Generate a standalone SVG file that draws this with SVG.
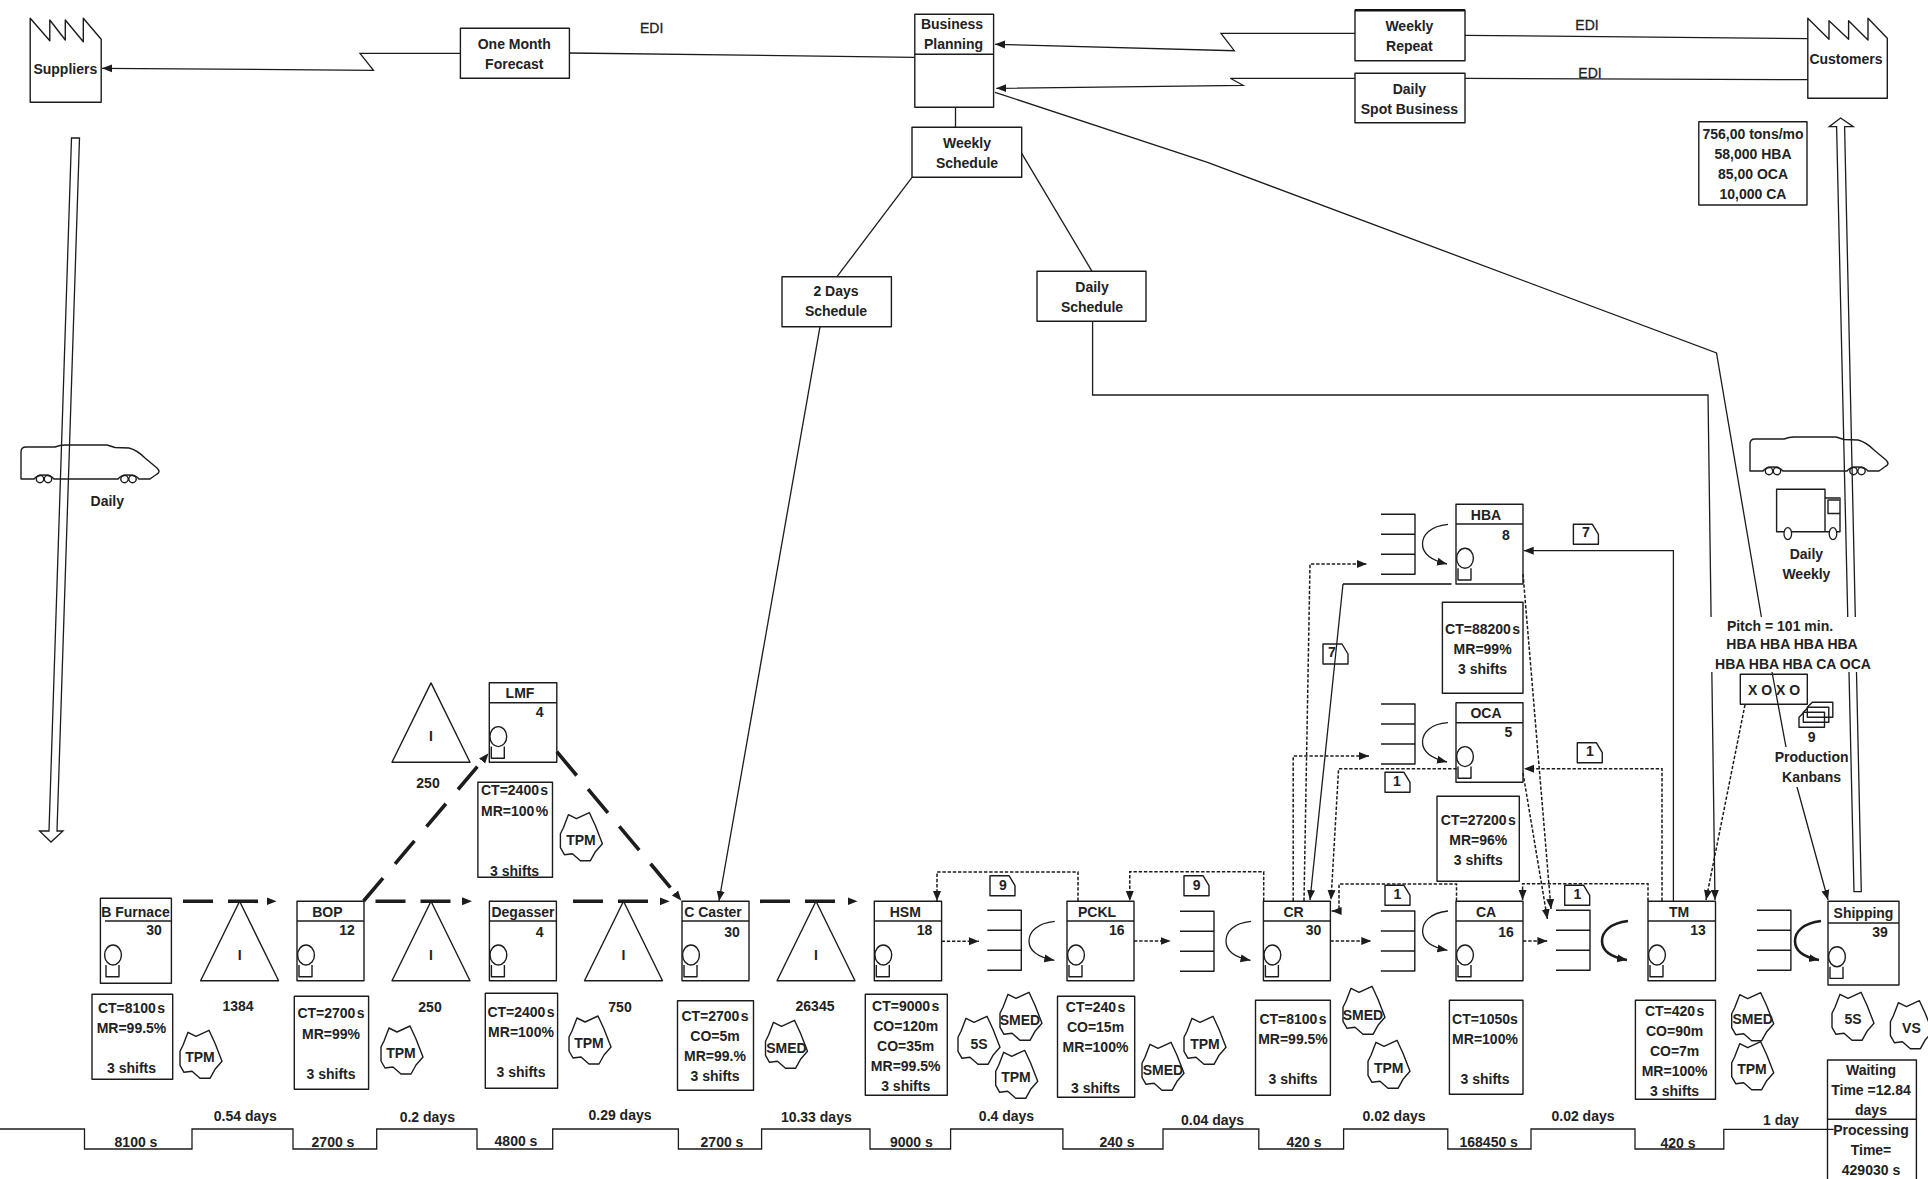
<svg xmlns="http://www.w3.org/2000/svg" xmlns:xlink="http://www.w3.org/1999/xlink" width="1928" height="1179" viewBox="0 0 1928 1179">
<style>
.b{fill:none;stroke:#1c1c1c;stroke-width:1.4;stroke-linejoin:round}
.s{fill:none;stroke:#1c1c1c;stroke-width:1.3}
.d{fill:none;stroke:#1c1c1c;stroke-width:1.5;stroke-dasharray:3.4 1.8}
.p{fill:none;stroke:#1c1c1c;stroke-width:3.6}
.c2{fill:none;stroke:#1c1c1c;stroke-width:2.6}
.w{fill:#fff;stroke:#1c1c1c;stroke-width:1.3}
.t{font-family:"Liberation Sans",Arial,sans-serif;font-size:14px;font-weight:bold;text-anchor:middle;dominant-baseline:central;fill:#222}
.n{font-family:"Liberation Sans",Arial,sans-serif;font-size:14px;text-anchor:middle;dominant-baseline:central;fill:#222;stroke:#222;stroke-width:.3}
.ct{word-spacing:-2.5px}
</style>
<defs>
<marker id="a" markerUnits="userSpaceOnUse" markerWidth="11" markerHeight="9" refX="10" refY="4.5" orient="auto"><path d="M0,0.5 L10,4.5 L0,8.5Z" fill="#1c1c1c"/></marker>
<marker id="h" markerUnits="userSpaceOnUse" markerWidth="11" markerHeight="10" refX="0" refY="5" orient="auto"><path d="M0,1 L10,5 L0,9Z" fill="#1c1c1c"/></marker>
<g id="op" class="b"><ellipse cx="9" cy="-25.7" rx="8.4" ry="10"/><path d="M2,-15.7 V-4 H15 V-15.7"/></g>
<path id="kz" class="b" d="M-18,-9 L-13,-22 L-5,-18 L8,-24 L14,-11 L21,7 L14,15 L9,24 L-1,24 L-9,17 L-17,18 L-21,11 L-21,-3 Z"/>
<path id="tr" class="b" d="M0,0 L39,79.4 H-39 Z"/>
<path id="sg" class="b" d="M0,0 H19 L25,10 V20 H0 Z"/>
<path id="sm" class="b" d="M0,0 H34 V60 H0 M0,20 H34 M0,40 H34"/>
<path id="card" class="b" d="M5,0 H25.5 V15 H0 V5 Z"/>
<g id="train" class="b"><path d="M21,479 V452 Q21,447 26,447 H55 Q60,445 65,445 H107 L115,447.5 L129,448 Q137,450 145,458 L157,468 Q161,472 157,474 L150,479 H139 Q136,475 128,475 Q121,475 118,479 H54 Q51,475 44,475 Q37,475 34,479 Z"/><circle cx="40" cy="479" r="3.7"/><circle cx="48" cy="479" r="3.7"/><circle cx="124.5" cy="479" r="3.7"/><circle cx="132.5" cy="479" r="3.7"/></g>
</defs>

<g id="connectors">
<path class="s" marker-end="url(#a)" d="M460.4,53.3 H360 L373.5,70.3 L102,68.3"/>
<path class="s" d="M569.4,53 L914.8,57.3"/>
<path class="s" marker-end="url(#a)" d="M1355,33.3 H1221 L1234.3,50.7 L995,44.3"/>
<path class="s" marker-end="url(#a)" d="M1355,78.3 H1230.3 L1243,85.3 L996.3,88.3"/>
<path class="s" d="M1465,35.3 L1807.8,38.7"/>
<path class="s" d="M1465,78.3 L1807.8,79.7"/>
<path class="s" d="M955.5,107.3 V127.3"/>
<path class="s" d="M912,177.3 L837,276.7"/>
<path class="s" d="M1021.7,153.3 L1092,271.3"/>
<path class="s" marker-end="url(#a)" d="M820,326.7 L719,901"/>
<path class="s" marker-end="url(#a)" d="M1092.6,321.3 V395 H1708 L1715,900"/>
<path class="s" marker-end="url(#a)" d="M995,92.3 L1207.5,162.3 L1716.5,353 L1761.4,617 L1772,672 L1786,747 L1797,787 L1828,900"/>
<path class="d" marker-end="url(#a)" d="M1745,704.7 L1706,900"/>
<path class="w" d="M1840.6,118 L1853.3,126.7 H1844.6 L1861.3,891.7 H1854 L1836.6,126.7 H1829.2 Z"/>
<path class="w" style="fill:none" d="M71.5,138 H79.5 L57,831 H63 L51,842 L39.5,831 H49 Z"/>
<path class="p" marker-end="url(#h)" d="M183,901.3 H266.5" stroke-dasharray="30 15"/>
<path class="p" marker-end="url(#h)" d="M375.5,901.3 H462" stroke-dasharray="30 15"/>
<path class="p" marker-end="url(#h)" d="M573,901.3 H659.6" stroke-dasharray="30 15"/>
<path class="p" marker-end="url(#h)" d="M760,901.3 H847.5" stroke-dasharray="30 15"/>
<path class="p" marker-end="url(#h)" d="M363.6,901 L482.1,761" stroke-dasharray="30 18.7"/>
<path class="p" marker-end="url(#h)" d="M556.8,751.7 L675,893" stroke-dasharray="31 17.7"/>
<path class="d" marker-end="url(#a)" d="M1078,901 V872 H937 V901"/>
<path class="d" marker-end="url(#a)" d="M1263.7,901 V871.8 H1129.8 V901"/>
<path class="d" marker-end="url(#a)" d="M941.6,941.3 H979"/>
<path class="d" marker-end="url(#a)" d="M1134,941 H1170.6"/>
<path class="d" marker-end="url(#a)" d="M1330.4,941 H1371.3"/>
<path class="d" marker-end="url(#a)" d="M1523,941 H1547.4"/>
<path class="d" marker-end="url(#a)" d="M1304,901 L1310,564 H1366.7"/>
<path class="d" marker-end="url(#a)" d="M1293.2,901 V756 H1369"/>
<path class="d" marker-end="url(#a)" d="M1456.7,768.7 H1338.6 L1331,900"/>
<path class="d" marker-end="url(#a)" d="M1456.5,901 V884 H1339 V911 H1331.6"/>
<path class="d" marker-end="url(#a)" d="M1648,901 V883.7 H1522.6 V900"/>
<path class="s" marker-end="url(#a)" d="M1673.4,901 V550.7 H1523.7"/>
<path class="d" marker-end="url(#a)" d="M1662,901 V768.7 H1524"/>
<path class="d" marker-end="url(#a)" d="M1523,574 L1551,909"/>
<path class="d" marker-end="url(#a)" d="M1523,773 L1547.4,919"/>
<path class="s" style="stroke-width:2;stroke:#444" d="M1451.5,584 H1343"/>
<path class="s" marker-end="url(#a)" d="M1343,584 L1310,900"/>
<path class="s" marker-end="url(#a)" d="M1054.7,921.3 C1037,923 1029,932 1029,941 C1029,950 1037,957 1054.3,960.3"/>
<path class="s" marker-end="url(#a)" d="M1251,921.3 C1233,923 1226,932 1226,941 C1226,950 1233,957 1250.5,960.3"/>
<path class="s" marker-end="url(#a)" d="M1448,911 C1430,913 1422.6,922 1422.6,931 C1422.6,940 1430,947 1447.4,950.3"/>
<path class="c2" marker-end="url(#a)" d="M1628,921 C1610,923 1602,932 1602,941 C1602,950 1610,957 1627,960"/>
<path class="c2" marker-end="url(#a)" d="M1821,921 C1803,923 1795,932 1795,941 C1795,950 1803,957 1819,960"/>
<path class="s" marker-end="url(#a)" d="M1448,524.3 C1430,526 1422.5,535 1422.5,544 C1422.5,553 1430,560 1447,564"/>
<path class="s" marker-end="url(#a)" d="M1448,722.7 C1430,724 1422.5,733 1422.5,742 C1422.5,751 1430,758 1447,762"/>
<path class="s" d="M0,1129 H84.5 V1149 H192 V1129 H293 V1149 H376.7 V1129 H477 V1149 H552.7 V1129 H678.4 V1149 H761.6 V1129 H870 V1149 H950.6 V1129 H1062.9 V1149 H1163 V1129 H1258.8 V1149 H1343.6 V1129 H1447.8 V1149 H1531 V1129 H1635 V1149 H1723.8 V1129.3 H1833.7"/>
</g>

<g id="pitch">
<rect x="1700" y="617" width="180" height="55" fill="#fff"/>
<rect x="1775" y="747" width="73" height="40" fill="#fff"/>
<text class="t" x="1780" y="626.3">Pitch = 101 min.</text>
<text class="t" x="1792" y="644">HBA HBA HBA HBA</text>
<text class="t" x="1793" y="664.3">HBA HBA HBA CA OCA</text>
</g>

<g id="suppliers"><path class="b" d="M30.2,102.3 V18.3 L49.8,40.7 V20 L65.3,40 V20 L83.3,41.7 V18.3 L101.2,39.3 V102.3 Z"/><text class="t" x="65.3" y="68.7">Suppliers</text></g>
<g id="forecast"><rect class="b" x="460.4" y="28.3" width="109" height="50"/><text class="t" x="514.3" y="44">One Month</text><text class="t" x="514.3" y="64">Forecast</text></g>
<text id="edi1" class="n" x="651.7" y="28.3">EDI</text>
<g id="business-planning"><rect class="b" x="914.8" y="14.3" width="78.8" height="93"/><path class="b" d="M914.8,54.3 H993.6"/><text class="t" x="952" y="24">Business</text><text class="t" x="953.5" y="44.3">Planning</text></g>
<g id="weekly-schedule"><rect class="b" x="912" y="127.3" width="109.7" height="50"/><text class="t" x="967" y="143.3">Weekly</text><text class="t" x="967" y="163.3">Schedule</text></g>
<g id="two-days"><rect class="b" x="782" y="276.7" width="109.4" height="50"/><text class="t" x="836" y="291.4">2 Days</text><text class="t" x="836" y="311">Schedule</text></g>
<g id="daily-schedule"><rect class="b" x="1037" y="271.3" width="109" height="50"/><text class="t" x="1092" y="286.7">Daily</text><text class="t" x="1092" y="307">Schedule</text></g>
<g id="weekly-repeat"><rect class="b" x="1355" y="10.3" width="110" height="50.4"/><path d="M1355,10.3 H1465" stroke="#111" stroke-width="2.4"/><text class="t" x="1409.4" y="26">Weekly</text><text class="t" x="1409.4" y="46.3">Repeat</text></g>
<g id="daily-spot"><rect class="b" x="1355" y="73.3" width="110" height="49.4"/><text class="t" x="1409.4" y="89">Daily</text><text class="t" x="1409.4" y="109.3">Spot Business</text></g>
<text id="edi2" class="n" x="1587" y="25">EDI</text>
<text id="edi3" class="n" x="1590" y="73">EDI</text>
<g id="customers"><path class="b" d="M1807.8,98.3 V18.3 L1829,39.3 V20.7 L1848.6,39.3 V20.7 L1868,40 V18.3 L1887.3,38.3 V98.3 Z"/><text class="t" x="1846" y="58.7">Customers</text></g>
<g id="demand"><rect class="b" x="1698.8" y="121.7" width="108.2" height="83.3"/><text class="t" x="1753" y="134.3">756,00 tons/mo</text><text class="t" x="1753" y="154.3">58,000 HBA</text><text class="t" x="1753" y="174.3">85,00 OCA</text><text class="t" x="1753" y="194.3">10,000 CA</text></g>
<g id="train-left"><use xlink:href="#train" href="#train"/><text class="t" x="107.3" y="501">Daily</text></g>
<g id="train-right"><use xlink:href="#train" href="#train" transform="translate(1729,-8)"/></g>
<g id="truck"><path class="b" d="M1776.6,531.7 V489.3 H1825 V531.7 Z M1825,498 H1840 V531.7 H1825 M1828,500 H1840 V513.5 H1828 Z"/><path d="M1828,499 H1840" stroke="#555" stroke-width="3"/><ellipse class="w" cx="1787.8" cy="533.7" rx="3.8" ry="6"/><ellipse class="w" cx="1833" cy="533.7" rx="3.8" ry="6"/><text class="t" x="1806.4" y="553.7">Daily</text><text class="t" x="1806.4" y="573.7">Weekly</text></g>
<g id="xoxo"><rect class="b" x="1740.3" y="674.3" width="67" height="30"/><text class="t" x="1774" y="690">X O X O</text></g>
<g id="kanbans"><use xlink:href="#card" href="#card" x="1807.3" y="702.3"/><use xlink:href="#card" href="#card" x="1803.3" y="707.3"/><use xlink:href="#card" href="#card" x="1799" y="712.3"/><text class="t" x="1811.6" y="736.7">9</text><text class="t" x="1811.6" y="757">Production</text><text class="t" x="1811.6" y="777">Kanbans</text></g>

<g id="b-furnace"><rect class="b" x="100.4" y="898.3" width="71" height="85"/><path class="b" d="M105,921 H171.4"/><use xlink:href="#op" href="#op" x="104" y="980.7"/><text class="t" x="135.5" y="911.7">B Furnace</text><text class="t" x="154" y="930">30</text></g>
<g id="bop"><rect class="b" x="297" y="901.3" width="67" height="79.4"/><path class="b" d="M297,921 H364"/><use xlink:href="#op" href="#op" x="297" y="980.7"/><text class="t" x="327.3" y="911.7">BOP</text><text class="t" x="347" y="930">12</text></g>
<g id="degasser"><rect class="b" x="489.4" y="901.3" width="67" height="79.4"/><path class="b" d="M489.4,921 H556.4"/><use xlink:href="#op" href="#op" x="489.4" y="980.7"/><text class="t" x="523" y="911.7">Degasser</text><text class="t" x="539.6" y="931.7">4</text></g>
<g id="lmf"><rect class="b" x="489.3" y="682.7" width="67.5" height="79.6"/><path class="b" d="M489.3,702.7 H556.8"/><use xlink:href="#op" href="#op" x="489.3" y="762.3"/><text class="t" x="520" y="693">LMF</text><text class="t" x="539.6" y="711.7">4</text></g>
<g id="c-caster"><rect class="b" x="682" y="901.3" width="67" height="79.4"/><path class="b" d="M682,921 H749"/><use xlink:href="#op" href="#op" x="682" y="980.7"/><text class="t" x="713" y="911.7">C Caster</text><text class="t" x="732" y="932">30</text></g>
<g id="hsm"><rect class="b" x="874.3" y="901.3" width="67.3" height="79.4"/><path class="b" d="M874.3,921 H941.6"/><use xlink:href="#op" href="#op" x="874.3" y="980.7"/><text class="t" x="905.3" y="911.7">HSM</text><text class="t" x="924.5" y="930">18</text></g>
<g id="pckl"><rect class="b" x="1067" y="901.3" width="67" height="79.4"/><path class="b" d="M1067,921 H1134"/><use xlink:href="#op" href="#op" x="1067" y="980.7"/><text class="t" x="1097" y="911.7">PCKL</text><text class="t" x="1116.7" y="930">16</text></g>
<g id="cr"><rect class="b" x="1263.4" y="901.3" width="67" height="79.4"/><path class="b" d="M1263.4,921 H1330.4"/><use xlink:href="#op" href="#op" x="1263.4" y="980.7"/><text class="t" x="1293.6" y="911.7">CR</text><text class="t" x="1313.5" y="930">30</text></g>
<g id="ca"><rect class="b" x="1456" y="901.3" width="67" height="79.4"/><path class="b" d="M1456,921 H1523"/><use xlink:href="#op" href="#op" x="1456" y="980.7"/><text class="t" x="1486" y="911.7">CA</text><text class="t" x="1506" y="932">16</text></g>
<g id="tm"><rect class="b" x="1648" y="901.3" width="67.5" height="79.4"/><path class="b" d="M1648,921 H1715.5"/><use xlink:href="#op" href="#op" x="1648" y="980.7"/><text class="t" x="1679" y="911.7">TM</text><text class="t" x="1698" y="930">13</text></g>
<g id="shipping"><rect class="b" x="1828" y="901.3" width="71" height="83.7"/><path class="b" d="M1828,923 H1899"/><use xlink:href="#op" href="#op" x="1828" y="982.4"/><text class="t" x="1863.5" y="912.7">Shipping</text><text class="t" x="1880" y="932">39</text></g>
<g id="hba"><rect class="b" x="1456" y="504.3" width="67" height="79.7"/><path class="b" d="M1456,524 H1523"/><use xlink:href="#op" href="#op" x="1456" y="584"/><text class="t" x="1486" y="515">HBA</text><text class="t" x="1506" y="534.7">8</text></g>
<g id="oca"><rect class="b" x="1456" y="702.7" width="67" height="79.6"/><path class="b" d="M1456,722.7 H1523"/><use xlink:href="#op" href="#op" x="1456" y="782.3"/><text class="t" x="1486" y="713.3">OCA</text><text class="t" x="1508.5" y="731.7">5</text></g>

<g id="inv-1"><use xlink:href="#tr" href="#tr" x="239.6" y="901.3"/><text class="t" x="239.6" y="955">I</text><text class="t" x="238" y="1005.7">1384</text></g>
<g id="inv-2"><use xlink:href="#tr" href="#tr" x="431" y="901.3"/><text class="t" x="431" y="955">I</text><text class="t" x="430" y="1007">250</text></g>
<g id="inv-3"><use xlink:href="#tr" href="#tr" x="623.5" y="901.3"/><text class="t" x="623.5" y="955">I</text><text class="t" x="620" y="1007">750</text></g>
<g id="inv-4"><use xlink:href="#tr" href="#tr" x="816" y="901.3"/><text class="t" x="816" y="955">I</text><text class="t" x="815" y="1005.7">26345</text></g>
<g id="inv-5"><use xlink:href="#tr" href="#tr" x="431" y="682.9"/><text class="t" x="431" y="736">I</text><text class="t" x="428" y="783.3">250</text></g>

<g id="info-b-furnace"><rect class="b" x="92" y="994.3" width="80.7" height="85"/><text class="t ct" x="131.5" y="1008">CT=8100 s</text><text class="t" x="131.5" y="1028">MR=99.5%</text><text class="t" x="131.5" y="1068.3">3 shifts</text></g>
<g id="info-bop"><rect class="b" x="294.3" y="996.3" width="74.3" height="93"/><text class="t ct" x="331" y="1013.3">CT=2700 s</text><text class="t" x="331" y="1033.7">MR=99%</text><text class="t" x="331" y="1073.7">3 shifts</text></g>
<g id="info-degasser"><rect class="b" x="485.3" y="993.3" width="72.3" height="95"/><text class="t ct" x="521" y="1011.7">CT=2400 s</text><text class="t" x="521" y="1031.7">MR=100%</text><text class="t" x="521" y="1072">3 shifts</text></g>
<g id="info-lmf"><rect class="b" x="477.9" y="782.3" width="74.6" height="95"/><text class="t ct" x="514.6" y="790.3">CT=2400 s</text><text class="t ct" x="514.6" y="810.7">MR=100 %</text><text class="t" x="514.6" y="871">3 shifts</text></g>
<g id="info-c-caster"><rect class="b" x="677.5" y="1000.7" width="76" height="89.6"/><text class="t ct" x="715" y="1015.7">CT=2700 s</text><text class="t" x="715" y="1036">CO=5m</text><text class="t" x="715" y="1056">MR=99.%</text><text class="t" x="715" y="1076">3 shifts</text></g>
<g id="info-hsm"><rect class="b" x="865.3" y="994.3" width="82" height="101"/><text class="t ct" x="905.7" y="1005.7">CT=9000 s</text><text class="t" x="905.7" y="1025.7">CO=120m</text><text class="t" x="905.7" y="1046">CO=35m</text><text class="t" x="905.7" y="1066">MR=99.5%</text><text class="t" x="905.7" y="1086">3 shifts</text></g>
<g id="info-pckl"><rect class="b" x="1057.5" y="996.3" width="77.2" height="101"/><text class="t ct" x="1095.5" y="1007.3">CT=240 s</text><text class="t" x="1095.5" y="1027.3">CO=15m</text><text class="t" x="1095.5" y="1047.3">MR=100%</text><text class="t" x="1095.5" y="1087.7">3 shifts</text></g>
<g id="info-cr"><rect class="b" x="1255.5" y="1000.3" width="74.9" height="95"/><text class="t ct" x="1293" y="1018.7">CT=8100 s</text><text class="t" x="1293" y="1039">MR=99.5%</text><text class="t" x="1293" y="1079">3 shifts</text></g>
<g id="info-ca"><rect class="b" x="1449.4" y="1000.3" width="73.6" height="94"/><text class="t" x="1485" y="1018.7">CT=1050s</text><text class="t" x="1485" y="1038.7">MR=100%</text><text class="t" x="1485" y="1078.7">3 shifts</text></g>
<g id="info-tm"><rect class="b" x="1635.4" y="1000.3" width="80.1" height="99"/><text class="t ct" x="1674.6" y="1010.7">CT=420 s</text><text class="t" x="1674.6" y="1031">CO=90m</text><text class="t" x="1674.6" y="1051">CO=7m</text><text class="t" x="1674.6" y="1071.3">MR=100%</text><text class="t" x="1674.6" y="1091.3">3 shifts</text></g>
<g id="info-hba"><rect class="b" x="1442.4" y="602.3" width="80.6" height="91"/><text class="t ct" x="1482.6" y="628.7">CT=88200 s</text><text class="t" x="1482.6" y="649">MR=99%</text><text class="t" x="1482.6" y="669">3 shifts</text></g>
<g id="info-oca"><rect class="b" x="1437" y="796.3" width="82.3" height="85"/><text class="t ct" x="1478.3" y="819.7">CT=27200 s</text><text class="t" x="1478.3" y="840">MR=96%</text><text class="t" x="1478.3" y="860">3 shifts</text></g>

<g id="kz-1"><use xlink:href="#kz" href="#kz" x="201" y="1054.3"/><text class="t" x="200" y="1057">TPM</text></g>
<g id="kz-2"><use xlink:href="#kz" href="#kz" x="402" y="1050"/><text class="t" x="401" y="1053">TPM</text></g>
<g id="kz-3"><use xlink:href="#kz" href="#kz" x="590" y="1040"/><text class="t" x="589" y="1043">TPM</text></g>
<g id="kz-4"><use xlink:href="#kz" href="#kz" x="581.4" y="836.7"/><text class="t" x="581" y="839.7">TPM</text></g>
<g id="kz-5"><use xlink:href="#kz" href="#kz" x="786.5" y="1044.3"/><text class="t" x="786.5" y="1048">SMED</text></g>
<g id="kz-6"><use xlink:href="#kz" href="#kz" x="979" y="1040.3"/><text class="t" x="979" y="1043.7">5S</text></g>
<g id="kz-7"><use xlink:href="#kz" href="#kz" x="1021" y="1016.3"/><text class="t" x="1020" y="1020">SMED</text></g>
<g id="kz-8"><use xlink:href="#kz" href="#kz" x="1016.7" y="1074.3"/><text class="t" x="1016" y="1077.3">TPM</text></g>
<g id="kz-9"><use xlink:href="#kz" href="#kz" x="1163" y="1066.3"/><text class="t" x="1163" y="1070">SMED</text></g>
<g id="kz-10"><use xlink:href="#kz" href="#kz" x="1205" y="1040.3"/><text class="t" x="1205" y="1043.7">TPM</text></g>
<g id="kz-11"><use xlink:href="#kz" href="#kz" x="1364" y="1010.3"/><text class="t" x="1363" y="1015">SMED</text></g>
<g id="kz-12"><use xlink:href="#kz" href="#kz" x="1389" y="1064.3"/><text class="t" x="1388.7" y="1067.7">TPM</text></g>
<g id="kz-13"><use xlink:href="#kz" href="#kz" x="1752.7" y="1016.7"/><text class="t" x="1752.7" y="1018.7">SMED</text></g>
<g id="kz-14"><use xlink:href="#kz" href="#kz" x="1752.7" y="1065.7"/><text class="t" x="1752" y="1069.3">TPM</text></g>
<g id="kz-15"><use xlink:href="#kz" href="#kz" x="1853" y="1016.3"/><text class="t" x="1853" y="1019.3">5S</text></g>
<g id="kz-16"><use xlink:href="#kz" href="#kz" x="1911.4" y="1024.7"/><text class="t" x="1911.4" y="1027.7">VS</text></g>

<g id="supermarkets">
<use xlink:href="#sm" href="#sm" x="987.3" y="910.3"/>
<use xlink:href="#sm" href="#sm" x="1180" y="911.3"/>
<use xlink:href="#sm" href="#sm" x="1380.8" y="911"/>
<use xlink:href="#sm" href="#sm" x="1556" y="910.3"/>
<use xlink:href="#sm" href="#sm" x="1756.9" y="910.3"/>
<use xlink:href="#sm" href="#sm" x="1381" y="514.3"/>
<use xlink:href="#sm" href="#sm" x="1381" y="704"/>
</g>

<g id="signals">
<use xlink:href="#sg" href="#sg" x="990" y="875.7"/><text class="t" x="1003" y="884.7">9</text>
<use xlink:href="#sg" href="#sg" x="1184" y="875.7"/><text class="t" x="1196.7" y="884.7">9</text>
<use xlink:href="#sg" href="#sg" x="1385" y="885.3"/><text class="t" x="1397.4" y="894">1</text>
<use xlink:href="#sg" href="#sg" x="1564.7" y="885.3"/><text class="t" x="1577.5" y="894">1</text>
<use xlink:href="#sg" href="#sg" x="1573.4" y="524.3"/><text class="t" x="1586" y="532.3">7</text>
<use xlink:href="#sg" href="#sg" x="1323" y="644"/><text class="t" x="1332" y="652">7</text>
<use xlink:href="#sg" href="#sg" x="1577.3" y="742.7"/><text class="t" x="1590" y="751.3">1</text>
<use xlink:href="#sg" href="#sg" x="1385" y="772.3"/><text class="t" x="1397" y="781">1</text>
</g>

<g id="timeline-labels">
<text class="t" x="136" y="1141.7">8100 s</text><text class="t" x="245.3" y="1116">0.54 days</text>
<text class="t" x="333" y="1141.7">2700 s</text><text class="t" x="427.3" y="1116.7">0.2 days</text>
<text class="t" x="516" y="1140.7">4800 s</text><text class="t" x="620" y="1115">0.29 days</text>
<text class="t" x="722" y="1142">2700 s</text><text class="t" x="816.3" y="1116.7">10.33 days</text>
<text class="t" x="911.4" y="1142">9000 s</text><text class="t" x="1006.5" y="1116">0.4 days</text>
<text class="t" x="1117" y="1142">240 s</text><text class="t" x="1212.6" y="1120.3">0.04 days</text>
<text class="t" x="1304" y="1142.3">420 s</text><text class="t" x="1394" y="1116">0.02 days</text>
<text class="t" x="1488.7" y="1142.3">168450 s</text><text class="t" x="1583" y="1116">0.02 days</text>
<text class="t" x="1678" y="1142.7">420 s</text><text class="t" x="1781" y="1120.3">1 day</text>
</g>

<g id="totals"><path class="b" d="M1827.5,1179 V1060 H1916.4 V1179 M1827.5,1119.3 H1916.4"/><text class="t" x="1871" y="1070.3">Waiting</text><text class="t" x="1871" y="1090.3">Time =12.84</text><text class="t" x="1871" y="1110.3">days</text><text class="t" x="1871" y="1130">Processing</text><text class="t" x="1871" y="1150">Time=</text><text class="t" x="1871" y="1170.3">429030 s</text></g>
</svg>
